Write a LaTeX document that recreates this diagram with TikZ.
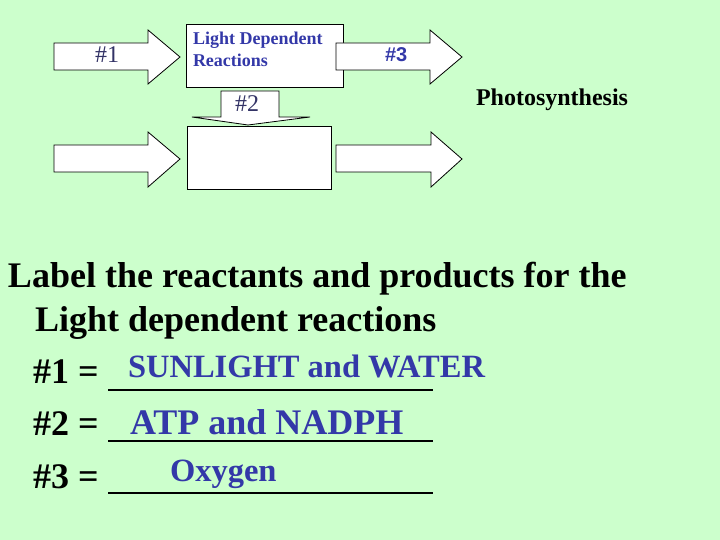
\documentclass[tikz,border=0pt]{standalone}
\usepackage{fontspec}
\setmainfont{Liberation Serif}
\newfontfamily\arialfont{Liberation Sans}
\definecolor{bg}{HTML}{CCFFCC}
\definecolor{ansblue}{HTML}{3338A8}
\definecolor{numcol}{HTML}{333366}
\tikzset{
  blockarrow/.style={draw=black, fill=white, line width=0.8pt, line join=miter},
  blockbox/.style={draw=black, fill=white, line width=0.8pt},
  txt/.style={anchor=base west, inner sep=0pt, outer sep=0pt},
  uline/.style={draw=black, line width=2.6pt},
  big/.style={txt, font=\fontsize{36}{36}\selectfont\bfseries},
  ans/.style={txt, text=ansblue, font=\fontsize{32.5}{32.5}\selectfont\bfseries},
}
\begin{document}
\begin{tikzpicture}[x=1pt,y=-1pt]
\useasboundingbox (0,0) rectangle (720,540);
\fill[bg] (0,0) rectangle (720,540);

% top row
\draw[blockarrow] (54,43) -- (148,43) -- (148,30) -- (180,57) -- (148,84) -- (148,70) -- (54,70) -- cycle;
\node[txt, text=numcol, font=\fontsize{24}{24}\selectfont] (n1) at (95,63) {\#1};
\draw[blockbox] (186,24) rectangle (343,87);
\node[txt, text=ansblue, font=\fontsize{18}{18}\selectfont\bfseries] (ld1) at (193,45) {Light Dependent};
\node[txt, text=ansblue, font=\fontsize{18}{18}\selectfont\bfseries] (ld2) at (193,67) {Reactions};
\draw[blockarrow] (336,43) -- (430,43) -- (430,30) -- (462,57) -- (430,84) -- (430,70) -- (336,70) -- cycle;
\node[txt, text=ansblue, font=\arialfont\fontsize{20}{20}\selectfont\bfseries] (n3) at (385,62) {\#3};
\node[txt, font=\fontsize{24}{24}\selectfont\bfseries] (ps) at (476,106) {Photosynthesis};

% down arrow
\draw[blockarrow] (221,91) -- (279,91) -- (279,117) -- (310,117) -- (248,125) -- (192,117) -- (221,117) -- cycle;
\node[txt, text=numcol, font=\fontsize{24}{24}\selectfont] (n2) at (235,112) {\#2};

% bottom row
\draw[blockarrow] (54,145) -- (148,145) -- (148,132) -- (180,159) -- (148,187) -- (148,172) -- (54,172) -- cycle;
\draw[blockbox] (187,126) rectangle (331,189);
\draw[blockarrow] (336,145) -- (431,145) -- (431,132) -- (462,159) -- (431,187) -- (431,172) -- (336,172) -- cycle;

% question text
\node[big] (q1) at (8,287) {Label the reactants and products for the};
\node[big] (q2) at (35,331) {Light dependent reactions};

\node[big] (l1) at (33,383) {\#1 =};
\node[ans] (a1) at (128,377) {SUNLIGHT and WATER};
\draw[uline] (108,390) -- (433,390);

\node[big] (l2) at (33,435) {\#2 =};
\node[ans, font=\fontsize{36}{36}\selectfont\bfseries] (a2) at (130,434) {ATP and NADPH};
\draw[uline] (108,441) -- (433,441);

\node[big] (l3) at (33,488) {\#3 =};
\node[ans] (a3) at (170,481) {Oxygen};
\draw[uline] (108,493) -- (433,493);
\end{tikzpicture}
\end{document}
